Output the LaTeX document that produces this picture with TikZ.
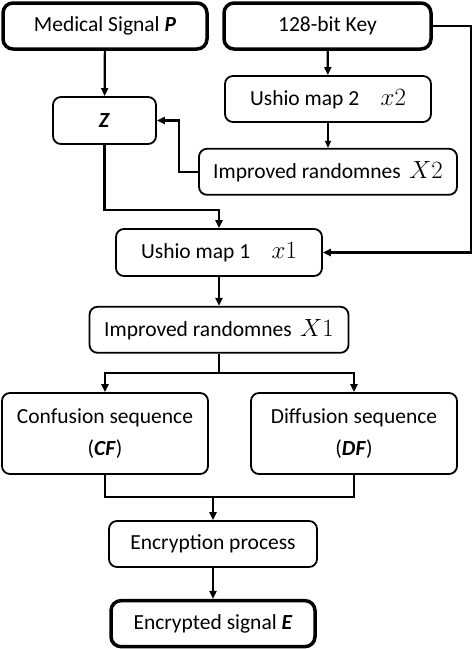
\documentclass[tikz,border=0pt]{standalone}
\usepackage{fontspec}
\setmainfont{Carlito}
\usepackage{tikz}
\usetikzlibrary{arrows.meta, positioning, calc}

\newcommand{\bi}[1]{\textbf{\textit{#1}}}
\newcommand{\mvar}[1]{{\fontsize{25}{32}\selectfont$#1$}}

\begin{document}
\begin{tikzpicture}[
  x=1pt, y=1pt,
  block/.style={draw=black, line width=1.8pt, rounded corners=8pt,
                minimum height=46pt, inner sep=2pt,
                font=\fontsize{21.5}{32}\selectfont, align=center},
  termblock/.style={block, line width=3.5pt, rounded corners=10pt},
  arrow/.style={-{Triangle[length=8pt, width=7pt]}, line width=2.2pt},
  thinarrow/.style={-{Triangle[length=7pt, width=6pt]}, line width=1.2pt},
  line/.style={line width=2.2pt}
]
\useasboundingbox (0,0) rectangle (474,-649);

% Inputs
\node[termblock, minimum width=204pt] (signal) at (105,-26) {Medical Signal \bi{P}};
\node[termblock, minimum width=207pt] (key) at (327.5,-26) {128-bit Key};

% Key branch
\node[block, minimum width=206pt] (ushio2) at (328,-99) {Ushio map 2\quad\mvar{x2}};
\node[block, minimum width=258pt, below=25pt of ushio2] (rand2) {Improved randomnes\, \mvar{X2}};

% Mixing
\node[block, minimum width=103pt, minimum height=47pt] (mix) at (104.5,-120.5) {\bi{Z}};

% Main chain
\node[block, minimum width=206pt, minimum height=47pt] (ushio1) at (219,-252.5) {Ushio map 1\quad\mvar{x1}};
\node[block, minimum width=259pt, below=29pt of ushio1] (rand1) {Improved randomnes\, \mvar{X1}};

% Sequences
\node[block, minimum width=206pt, minimum height=81pt] (confusion) at (105,-433.5) {Confusion sequence\\(\bi{CF})};
\node[block, minimum width=206pt, minimum height=81pt] (diffusion) at (354,-433.5) {Diffusion sequence\\(\bi{DF})};

% Output
\node[block, minimum width=208pt] (encrypt) at (213,-544) {Encryption process};
\node[termblock, minimum width=204pt, below=31pt of encrypt] (cipher) {Encrypted signal \bi{E}};

% Arrows
\draw[arrow] (signal) -- (mix);
\draw[arrow] (key) -- (ushio2);
\draw[thinarrow] (ushio2) -- (rand2);
\draw[arrow] (rand2.west) -- ++(-19,0) |- (mix.east);
\draw[arrow] (mix.south) -- ++(0,-65) -| (ushio1.north);
\draw[arrow] (key.east) -- ++(38,0) |- (ushio1.east);
\draw[arrow] (ushio1) -- (rand1);
\coordinate[below=19pt of rand1.south] (split);
\draw[line] (rand1.south) -- (split);
\draw[arrow] (split) -| (confusion.north);
\draw[arrow] (split) -| (diffusion.north);
\coordinate[above=23pt of encrypt.north] (merge);
\draw[line] (confusion.south) |- (merge) -| (diffusion.south);
\draw[arrow] (merge) -- (encrypt);
\draw[arrow] (encrypt) -- (cipher);

\end{tikzpicture}
\end{document}
